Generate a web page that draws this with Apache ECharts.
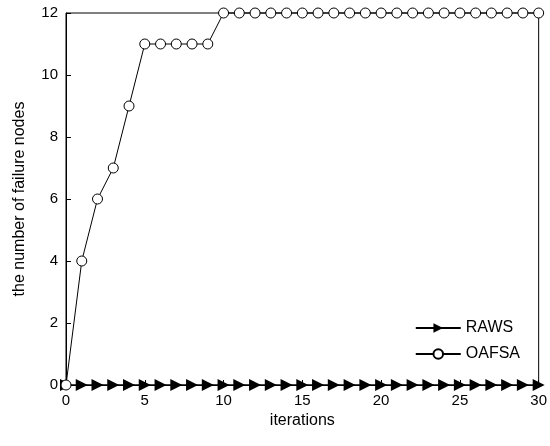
<!DOCTYPE html>
<html lang="en">
<head>
<meta charset="UTF-8">
<script src="https://cdn.jsdelivr.net/npm/echarts@6/dist/echarts.min.js"></script>
</head>
<body style="margin:0">
<div id="main" style="width:550px;height:446px"></div>
<script>
  var iterations = [];
  for (var i = 0; i <= 30; i++) iterations.push(i);
  var raws = [0,0,0,0,0,0,0,0,0,0,0,0,0,0,0,0,0,0,0,0,0,0,0,0,0,0,0,0,0,0,0];
  var oafsa = [0,4,6,7,9,11,11,11,11,11,12,12,12,12,12,12,12,12,12,12,12,12,12,12,12,12,12,12,12,12,12];

  var chart = echarts.init(document.getElementById('main'));
  var font = 'Liberation Sans, Arial, sans-serif';
  var axisCommon = {
    axisLine: { onZero: false, lineStyle: { color: '#000', width: 1 } },
    axisTick: { inside: true, length: 5, lineStyle: { color: '#000' } },
    axisLabel: { color: '#000', fontSize: 15, fontFamily: font },
    splitLine: { show: false },
    nameTextStyle: { color: '#000', fontSize: 16, fontFamily: font }
  };
  function pairs(arr) { return arr.map(function (v, i) { return [iterations[i], v]; }); }
  var option = {
    animation: false,
    grid: { left: 66, right: 9, top: 13, bottom: 61, show: true, borderColor: '#000', borderWidth: 1 },
    xAxis: Object.assign({ type: 'value', min: 0, max: 30, interval: 5, name: 'iterations',
      nameLocation: 'middle', nameGap: 25 }, axisCommon),
    yAxis: Object.assign({ type: 'value', min: 0, max: 12, interval: 2, name: 'the number of failure nodes',
      nameLocation: 'middle', nameGap: 38 }, axisCommon),
    legend: {
      orient: 'vertical', right: 25, top: 315, itemWidth: 45, itemHeight: 12, itemGap: 10,
      textStyle: { color: '#000', fontSize: 16, fontFamily: font },
      data: ['RAWS', 'OAFSA']
    },
    series: [
      { name: 'RAWS', type: 'line', data: pairs(raws), symbol: 'triangle', symbolRotate: -90, symbolSize: 12,
        itemStyle: { color: '#000' }, lineStyle: { color: '#000', width: 1 }, clip: false },
      { name: 'OAFSA', type: 'line', data: pairs(oafsa), symbol: 'circle', symbolSize: 10,
        itemStyle: { color: '#fff', borderColor: '#000', borderWidth: 1 }, lineStyle: { color: '#000', width: 1 }, clip: false }
    ]
  };
  chart.setOption(option);
</script>
</body>
</html>
